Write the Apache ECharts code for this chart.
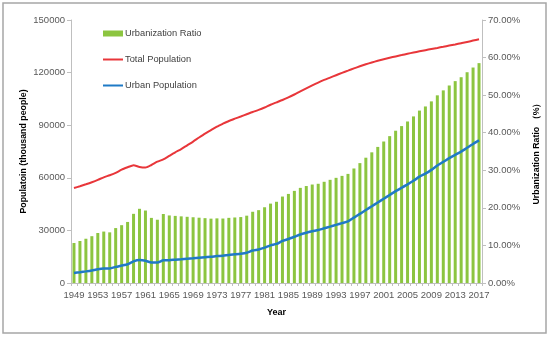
<!DOCTYPE html>
<html><head><meta charset="utf-8">
<script src="https://cdn.jsdelivr.net/npm/echarts@6/dist/echarts.min.js"></script>
<style>html,body{margin:0;padding:0;background:#fff}#c{width:550px;height:338px}</style>
</head><body><div id="c"></div>
<script>
const years = [];
for (let y = 1949; y <= 2017; y++) years.push(String(y));
const urbanizationRatio = [10.64,11.18,11.78,12.46,13.31,13.69,13.48,14.62,15.39,16.25,18.41,19.75,19.29,17.33,16.84,18.37,17.98,17.86,17.74,17.62,17.50,17.38,17.26,17.13,17.20,17.16,17.34,17.44,17.55,17.92,18.96,19.39,20.16,21.13,21.62,23.01,23.71,24.52,25.32,25.81,26.21,26.41,26.94,27.46,27.99,28.51,29.04,30.48,31.91,33.35,34.78,36.22,37.66,39.09,40.53,41.76,42.99,44.34,45.89,46.99,48.34,49.95,51.27,52.57,53.73,54.77,56.10,57.35,58.52];
const totalPopulation = [54167,55196,56300,57482,58796,60266,61465,62828,64653,65994,67207,66207,65859,67295,69172,70499,72538,74542,76368,78534,80671,82992,85229,87177,89211,90859,92420,93717,94974,96259,97542,98705,100072,101654,103008,104357,105851,107507,109300,111026,112704,114333,115823,117171,118517,119850,121121,122389,123626,124761,125786,126743,127627,128453,129227,129988,130756,131448,132129,132802,133450,134091,134735,135404,136072,136782,137462,138271,139008];
const urbanPopulation = [5765,6169,6632,7163,7826,8249,8285,9185,9949,10721,12371,13073,12707,11659,11646,12950,13045,13313,13548,13838,14117,14424,14711,14935,15345,15595,16030,16341,16669,17245,18495,19140,20171,21480,22274,24017,25094,26366,27674,28661,29540,30195,31203,32175,33173,34169,35174,37304,39449,41608,43748,45906,48064,50212,52376,54283,56212,58288,60633,62403,64512,66978,69079,71182,73111,74916,77116,79298,81347];

const FONT = 'Liberation Sans';
const chart = echarts.init(document.getElementById('c'), null, {renderer: 'canvas'});
chart.setOption({
  backgroundColor: '#fff',
  animation: false,
  textStyle: {fontFamily: FONT},
  graphic: [{type: 'rect', shape: {x: 3, y: 3, width: 543, height: 330}, style: {fill: 'none', stroke: '#a6a6a6', lineWidth: 1.5}, silent: true}],
  legend: {
    orient: 'vertical', left: 97, top: 24, itemGap: 17, itemWidth: 20, itemHeight: 9,
    textStyle: {fontFamily: FONT, fontSize: 9.3, color: '#404040', padding: [0, 0, 0, -3]},
    data: [
      {name: 'Urbanization Ratio', icon: 'path://M0,3h20v6h-20z'},
      {name: 'Total Population', itemStyle: {opacity: 0}},
      {name: 'Urban Population', itemStyle: {opacity: 0}}
    ]
  },
  grid: {left: 71, right: 68, top: 20, bottom: 55},
  xAxis: {
    type: 'category', data: years, boundaryGap: true,
    name: 'Year', nameLocation: 'middle', nameGap: 25,
    nameTextStyle: {fontFamily: FONT, fontWeight: 'bold', fontSize: 9, color: '#000'},
    axisLine: {lineStyle: {color: '#bfbfbf', width: 1}},
    axisTick: {show: true, interval: 0, length: 3, lineStyle: {color: '#bfbfbf'}},
    axisLabel: {interval: 3, color: '#595959', fontSize: 9.5, fontFamily: FONT, margin: 7}
  },
  yAxis: [{
    type: 'value', min: 0, max: 150000, interval: 30000, position: 'left',
    name: 'Populatoin (thousand people)', nameLocation: 'middle', nameGap: 43, nameRotate: 90,
    nameMoveOverlap: false,
    nameTextStyle: {fontFamily: FONT, fontWeight: 'bold', fontSize: 8.8, color: '#000'},
    axisLine: {show: true, lineStyle: {color: '#bfbfbf'}},
    axisTick: {show: true, length: 4, lineStyle: {color: '#bfbfbf'}},
    splitLine: {show: false},
    axisLabel: {color: '#595959', fontSize: 9.5, fontFamily: FONT, margin: 6, formatter: v => String(v)}
  }, {
    type: 'value', min: 0, max: 70, interval: 10, position: 'right',
    name: 'Urbanization Ratio （%）', nameLocation: 'middle', nameGap: 50, nameRotate: 90,
    nameTextStyle: {fontFamily: FONT, fontWeight: 'bold', fontSize: 8.8, color: '#000'},
    axisLine: {show: true, lineStyle: {color: '#bfbfbf'}},
    axisTick: {show: true, length: 4, lineStyle: {color: '#bfbfbf'}},
    splitLine: {show: false},
    axisLabel: {color: '#595959', fontSize: 9.5, fontFamily: FONT, margin: 6,
      formatter: v => v.toFixed(2) + '%'}
  }],
  series: [{
    name: 'Urbanization Ratio', type: 'bar', yAxisIndex: 1, data: urbanizationRatio,
    barWidth: 3, itemStyle: {color: '#8cc540'}, z: 1
  }, {
    name: 'Total Population', type: 'line', yAxisIndex: 0, data: totalPopulation,
    symbol: 'none', smooth: 0.2, lineStyle: {color: '#e8363a', width: 2}, itemStyle: {color: '#e8363a'}, z: 3
  }, {
    name: 'Urban Population', type: 'line', yAxisIndex: 0, data: urbanPopulation,
    symbol: 'none', smooth: 0.2, lineStyle: {color: '#1f7ac6', width: 2.5}, itemStyle: {color: '#1f7ac6'}, z: 3
  }]
});
</script></body></html>
